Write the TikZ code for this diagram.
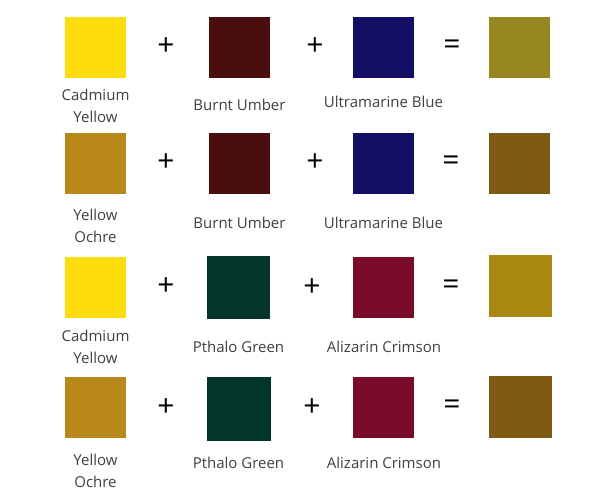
\documentclass[tikz,border=0pt]{standalone}
\usepackage{fontspec}
\setmainfont{Open Sans}
\definecolor{cadyellow}{HTML}{FDDE0C}
\definecolor{burntumber}{HTML}{4A0E0E}
\definecolor{ultramarine}{HTML}{120E66}
\definecolor{ochre}{HTML}{B8881B}
\definecolor{pthalo}{HTML}{04352A}
\definecolor{alizarin}{HTML}{7A0B2B}
\definecolor{resA}{HTML}{968721}
\definecolor{resB}{HTML}{7D5B14}
\definecolor{resC}{HTML}{A88811}
\definecolor{resD}{HTML}{7E5A14}
\definecolor{labelgray}{HTML}{404040}
\begin{document}
\begin{tikzpicture}[x=1pt,y=-1pt,
  swatch/.style={minimum width=61pt,minimum height=61pt,inner sep=0pt,fill=#1},
  lbl/.style={text=labelgray,font=\fontsize{15}{22}\selectfont,align=center,inner sep=0pt},
  sym/.style={text=black,font=\fontsize{30}{30}\selectfont,inner sep=0pt}]
\fill[white] (0,0) rectangle (600,500);
\useasboundingbox (0,0) rectangle (600,500);
% Row 1
\node[swatch=cadyellow] (a1) at (95.5,47.5) {};
\node[sym] (p11) at (166,47) {+};
\node[swatch=burntumber] (b1) at (239.5,47.5) {};
\node[sym] (p12) at (315,47) {+};
\node[swatch=ultramarine] (c1) at (383.5,47.5) {};
\node[sym] (e1) at (452,47) {=};
\node[swatch=resA] (r1) at (519.5,47.5) {};
\node[lbl] (la1) at (95.5,106) {Cadmium\\Yellow};
\node[lbl] (lb1) at (239.5,105) {Burnt Umber};
\node[lbl] (lc1) at (383.5,102) {Ultramarine Blue};
% Row 2
\node[swatch=ochre] (a2) at (95.5,163.5) {};
\node[sym] (p21) at (166,163) {+};
\node[swatch=burntumber] (b2) at (239.5,163.5) {};
\node[sym] (p22) at (315,163) {+};
\node[swatch=ultramarine] (c2) at (383.5,163.5) {};
\node[sym] (e2) at (451,163) {=};
\node[swatch=resB] (r2) at (519,163.5) {};
\node[lbl] (la2) at (95.5,226) {Yellow\\Ochre};
\node[lbl] (lb2) at (239.5,223) {Burnt Umber};
\node[lbl] (lc2) at (383.5,223) {Ultramarine Blue};
% Row 3
\node[swatch=cadyellow] (a3) at (95.5,287) {};
\node[sym] (p31) at (166,287) {+};
\node[swatch=pthalo,minimum width=63pt,minimum height=63pt] (b3) at (238.5,287.5) {};
\node[sym] (p32) at (312,288) {+};
\node[swatch=alizarin] (c3) at (383.5,287) {};
\node[sym] (e3) at (451,287) {=};
\node[swatch=resC,minimum width=63pt,minimum height=62pt] (r3) at (520.5,286) {};
\node[lbl] (la3) at (95.5,346.5) {Cadmium\\Yellow};
\node[lbl] (lb3) at (238.5,347) {Pthalo Green};
\node[lbl] (lc3) at (384,347) {Alizarin Crimson};
% Row 4
\node[swatch=ochre] (a4) at (95.5,407.5) {};
\node[sym] (p41) at (166,408) {+};
\node[swatch=pthalo,minimum width=64pt,minimum height=64pt] (b4) at (239,409) {};
\node[sym] (p42) at (312,408) {+};
\node[swatch=alizarin] (c4) at (383.5,407.5) {};
\node[sym] (e4) at (452,407) {=};
\node[swatch=resD,minimum width=63pt,minimum height=62pt] (r4) at (520.5,407) {};
\node[lbl] (la4) at (95.5,471) {Yellow\\Ochre};
\node[lbl] (lb4) at (238.5,463) {Pthalo Green};
\node[lbl] (lc4) at (384,463) {Alizarin Crimson};
\end{tikzpicture}
\end{document}
